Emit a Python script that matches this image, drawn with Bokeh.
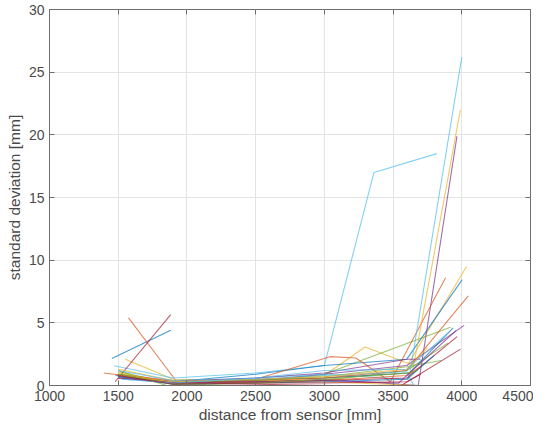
from bokeh.plotting import figure
from bokeh.models import LinearAxis, Range1d, FixedTicker, CustomJSTickFormatter
from bokeh.embed import file_html
from bokeh.resources import INLINE

# MATLAB default colour order
palette = ["#0072BD", "#D95319", "#EDB120", "#7E2F8E", "#77AC30", "#4DBEEE", "#A2142F"]

x_ticks = [1000, 1500, 2000, 2500, 3000, 3500, 4000, 4500]
y_ticks = [0, 5, 10, 15, 20, 25, 30]

# series (distance [mm], std [mm]) in colour-cycle order
s01_x = [1454, 1882]
s01_y = [2.15, 4.4]
s02_x = [1575, 1926]
s02_y = [5.4, 0.3]
s03_x = [1551, 1900, 2500, 3000, 3295, 3612, 4035]
s03_y = [2.1, 0.5, 0.4, 0.8, 3.07, 1.76, 9.5]
s04_x = [1500, 1900, 2500, 3000, 3683, 3965]
s04_y = [0.7, 0.3, 0.3, 0.5, 0.0, 19.9]
s05_x = [1500, 1900, 2500, 3000, 3600, 3918]
s05_y = [1.1, 0.15, 0.3, 0.9, 3.35, 4.65]
s06_x = [1470, 1900, 2500, 3000, 3361, 3818]
s06_y = [1.58, 0.6, 1.0, 1.6, 17.0, 18.5]
s07_x = [1478, 1882]
s07_y = [0.3, 5.65]

s08_x = [1500, 1900, 2500, 3000, 3600, 4003]
s08_y = [0.9, 0.3, 0.9, 1.6, 2.1, 8.45]
s09_x = [1500, 1900, 2500, 3041, 3230, 3480, 3882]
s09_y = [0.9, 0.4, 0.5, 2.3, 2.2, 0.3, 8.6]
s10_x = [1500, 1900, 2500, 3000, 3640, 3990]
s10_y = [1.3, 0.4, 0.3, 0.6, 1.0, 22.0]
s11_x = [1500, 1900, 2500, 3000, 3600, 4017]
s11_y = [0.8, 0.2, 0.4, 0.9, 1.6, 4.8]
s12_x = [1500, 1853, 2500, 3000, 3600, 3900]
s12_y = [1.2, 0.0, 0.2, 0.4, 1.2, 3.4]
s13_x = [1500, 1900, 2500, 3000, 3615, 4000]
s13_y = [1.2, 0.4, 0.6, 0.9, 0.5, 26.2]
s14_x = [1490, 1900, 2500, 3063, 3560, 3991]
s14_y = [0.85, 0.2, 0.1, 0.0, 0.0, 2.9]

s15_x = [1480, 1880, 2500, 3000, 3620, 3937]
s15_y = [0.8, 0.2, 0.5, 0.6, 1.0, 4.6]
s16_x = [1395, 1900, 2500, 3000, 3600, 4047]
s16_y = [1.0, 0.3, 0.4, 0.6, 1.2, 7.15]
s17_x = [1500, 1900, 2500, 3000, 3690, 3915]
s17_y = [1.0, 0.2, 0.2, 0.3, 0.0, 0.0]
s18_x = [1500, 1900, 2500, 3000, 3600, 3700]
s18_y = [0.6, 0.3, 0.6, 1.0, 2.1, 2.1]
s19_x = [1500, 1900, 2500, 3000, 3600, 3850]
s19_y = [0.9, 0.2, 0.4, 0.7, 1.5, 2.0]
s20_x = [1530, 1900, 2500, 3000, 3600, 3650]
s20_y = [0.5, 0.3, 0.5, 0.8, 1.1, 0.0]
s21_x = [1500, 1900, 2500, 3000, 3600, 3966]
s21_y = [0.8, 0.2, 0.3, 0.4, 0.6, 3.9]

s22_x = [1500, 1900, 2500, 3000, 3600, 3800]
s22_y = [0.7, 0.1, 0.2, 0.3, 0.5, 2.4]
s23_x = [1500, 1900, 2500, 3000, 3600, 3700]
s23_y = [0.6, 0.2, 0.3, 0.4, 0.8, 1.5]
s24_x = [1500, 1900, 2500, 3000, 3600, 3750]
s24_y = [0.8, 0.3, 0.5, 0.7, 1.3, 3.0]
s25_x = [1500, 1900, 2500, 3000, 3540, 3960]
s25_y = [0.6, 0.2, 0.3, 0.4, 0.2, 4.4]
s26_x = [1500, 1900, 2500, 3000, 3600, 3680]
s26_y = [0.9, 0.1, 0.2, 0.5, 1.0, 1.2]
s27_x = [1520, 1900, 2500, 3000, 3600, 3900]
s27_y = [0.5, 0.2, 0.6, 1.2, 1.3, 4.2]
s28_x = [1500, 1900, 2500, 3000, 3600, 3700]
s28_y = [0.8, 0.1, 0.2, 0.2, 0.3, 0.9]

series = [
    (s01_x, s01_y), (s02_x, s02_y), (s03_x, s03_y), (s04_x, s04_y),
    (s05_x, s05_y), (s06_x, s06_y), (s07_x, s07_y),
    (s08_x, s08_y), (s09_x, s09_y), (s10_x, s10_y), (s11_x, s11_y),
    (s12_x, s12_y), (s13_x, s13_y), (s14_x, s14_y),
    (s15_x, s15_y), (s16_x, s16_y), (s17_x, s17_y), (s18_x, s18_y),
    (s19_x, s19_y), (s20_x, s20_y), (s21_x, s21_y),
    (s22_x, s22_y), (s23_x, s23_y), (s24_x, s24_y), (s25_x, s25_y),
    (s26_x, s26_y), (s27_x, s27_y), (s28_x, s28_y),
]

FONT = "Liberation Sans"
AX = "#6e6e6e"
TXT = "#4a4a4a"

p = figure(frame_width=481, frame_height=376, output_backend="svg", toolbar_location=None,
           x_range=Range1d(1000, 4500), y_range=Range1d(0, 30),
           min_border_left=49, min_border_right=3, min_border_top=9, min_border_bottom=41)
p.background_fill_color = "white"
p.border_fill_color = "white"
p.outline_line_color = AX
p.outline_line_width = 1

for i, (xs, ys) in enumerate(series):
    p.line(xs, ys, line_color=palette[i % len(palette)], line_width=1.1, line_alpha=0.7)

for ax in (p.xaxis[0], p.yaxis[0]):
    ax.axis_line_color = AX
    ax.major_tick_line_color = AX
    ax.major_tick_in = 5
    ax.major_tick_out = 0
    ax.minor_tick_line_color = None
    ax.major_label_text_font = FONT
    ax.major_label_text_font_size = "14px"
    ax.major_label_text_color = TXT
    ax.axis_label_text_font = FONT
    ax.axis_label_text_font_size = "15.5px"
    ax.axis_label_text_font_style = "normal"
    ax.axis_label_text_color = TXT

p.xaxis.ticker = FixedTicker(ticks=x_ticks)
p.yaxis.ticker = FixedTicker(ticks=y_ticks)
p.xaxis.axis_label = "distance from sensor [mm]"
p.yaxis.axis_label = "standard deviation [mm]"
p.xaxis.axis_label_standoff = 2
p.yaxis.axis_label_standoff = 3
p.xaxis.major_label_standoff = 5
p.yaxis.major_label_standoff = 5

blank = CustomJSTickFormatter(code="return '';")
for loc, tk in (("right", y_ticks), ("above", x_ticks)):
    a = LinearAxis(ticker=FixedTicker(ticks=tk), formatter=blank)
    a.axis_line_color = None
    a.major_tick_line_color = AX
    a.major_tick_in = 5
    a.major_tick_out = 0
    a.minor_tick_line_color = None
    a.major_label_text_font_size = "0px"
    a.major_label_standoff = 0
    p.add_layout(a, loc)

p.xgrid.ticker = FixedTicker(ticks=x_ticks)
p.ygrid.ticker = FixedTicker(ticks=y_ticks)
p.grid.grid_line_color = "#e3e3e3"
p.grid.grid_line_width = 1

open("out.html", "w").write(file_html(p, INLINE))
